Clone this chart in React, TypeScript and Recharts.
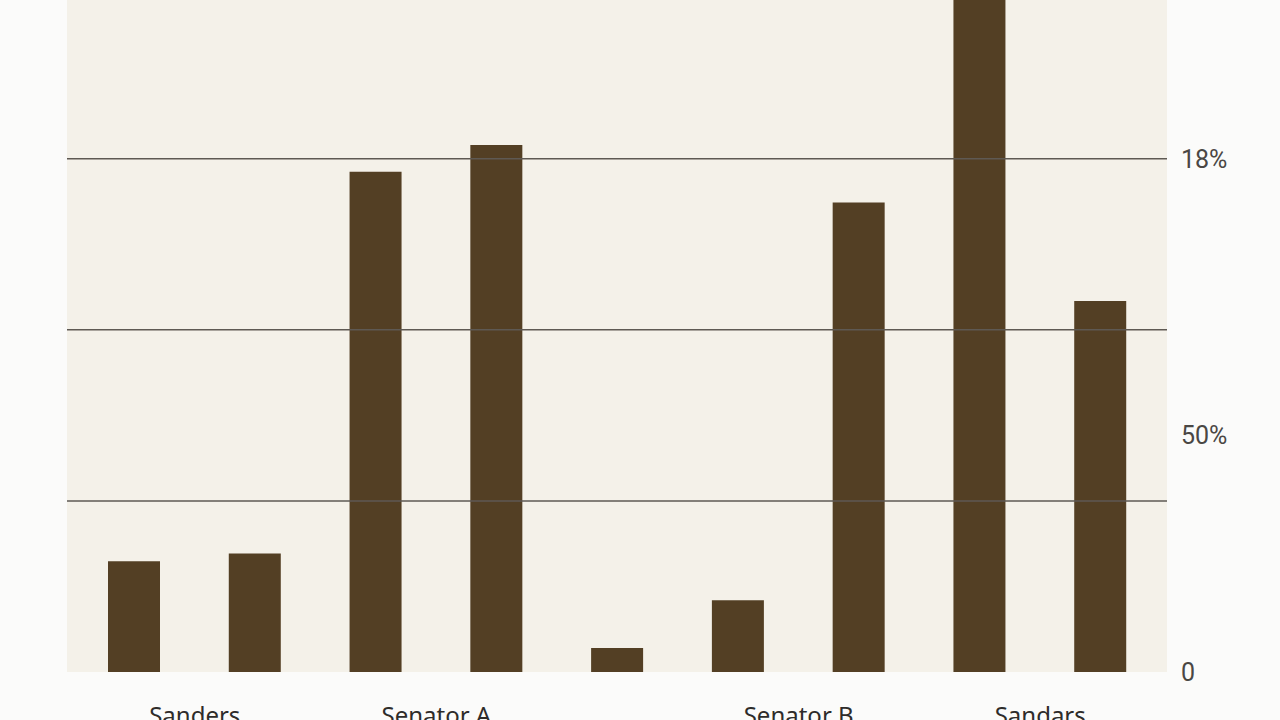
import { ComposedChart, Bar, Line, XAxis, YAxis, CartesianGrid, ReferenceLine } from 'recharts';

// Barras (9 columnas, sin nombre visible)
const barIds = ['b1', 'b2', 'b3', 'b4', 'b5', 'b6', 'b7', 'b8', 'b9'];
const barValues = [16.2, 17.3, 73.1, 77.0, 3.5, 10.5, 68.6, 100, 54.2];

// Etiquetas del eje inferior, ubicadas entre columnas
const groupLabels = ['Sanders', 'Senator A', 'Senator B', 'Sandars'];
const groupPositions = [1, 3, 6, 8];

// Eje derecho
const yTicks = [0, 34.6, 75];
const yTickLabels = ['0', '50%', '18%'];
const gridValues = [25, 50, 75];

// slot: centro de cada columna en unidades de columna (para el eje de etiquetas)
const data = barIds.map((id, i) => ({ id, slot: i + 0.5, value: barValues[i] }));

const BAR_COLOR = '#533f24';
const PLOT_BG = '#f4f1e9';

export default function App() {
  return (
    <div style={{ position: 'absolute', top: 0, left: 0, width: 1280, height: 720, background: '#fbfbfa' }}>
      <ComposedChart
        width={1280}
        height={720}
        data={data}
        margin={{ top: 0, right: 0, bottom: 0, left: 67 }}
        barSize={52}
      >
        <CartesianGrid horizontal={false} vertical={false} fill={PLOT_BG} stroke="none" />
        <XAxis
          xAxisId="bars"
          dataKey="id"
          height={0}
          tick={false}
          tickLine={false}
          axisLine={{ stroke: '#4a4540', strokeWidth: 2 }}
          padding={{ left: 7, right: 6 }}
        />
        <XAxis
          xAxisId="labels"
          dataKey="slot"
          type="number"
          domain={[0, barIds.length]}
          allowDataOverflow
          ticks={groupPositions}
          interval={0}
          tickFormatter={(v: number) => groupLabels[groupPositions.indexOf(v)] ?? ''}
          height={48}
          axisLine={false}
          tickLine={false}
          tickMargin={29}
          padding={{ left: 7, right: 6 }}
          tick={{ fill: '#2e2c2a', fontSize: 24, fontFamily: 'Noto Sans' }}
        />
        <YAxis
          orientation="right"
          width={113}
          domain={[0, 98.2]}
          allowDataOverflow
          ticks={yTicks}
          tickFormatter={(v: number) => yTickLabels[yTicks.indexOf(v)] ?? ''}
          axisLine={false}
          tickLine={false}
          tickMargin={8}
          tick={{ fill: '#4a4744', fontSize: 25, fontFamily: 'Roboto' }}
        />
        {gridValues.map((v) => (
          <ReferenceLine key={v} xAxisId="bars" y={v} stroke="#5e5953" strokeWidth={1.5} />
        ))}
        <Bar xAxisId="bars" dataKey="value" fill={BAR_COLOR} isAnimationActive={false} />
        {/* serie invisible que ancla el eje numérico de etiquetas */}
        <Line
          xAxisId="labels"
          dataKey="value"
          stroke="none"
          dot={false}
          activeDot={false}
          legendType="none"
          isAnimationActive={false}
        />
      </ComposedChart>
    </div>
  );
}
